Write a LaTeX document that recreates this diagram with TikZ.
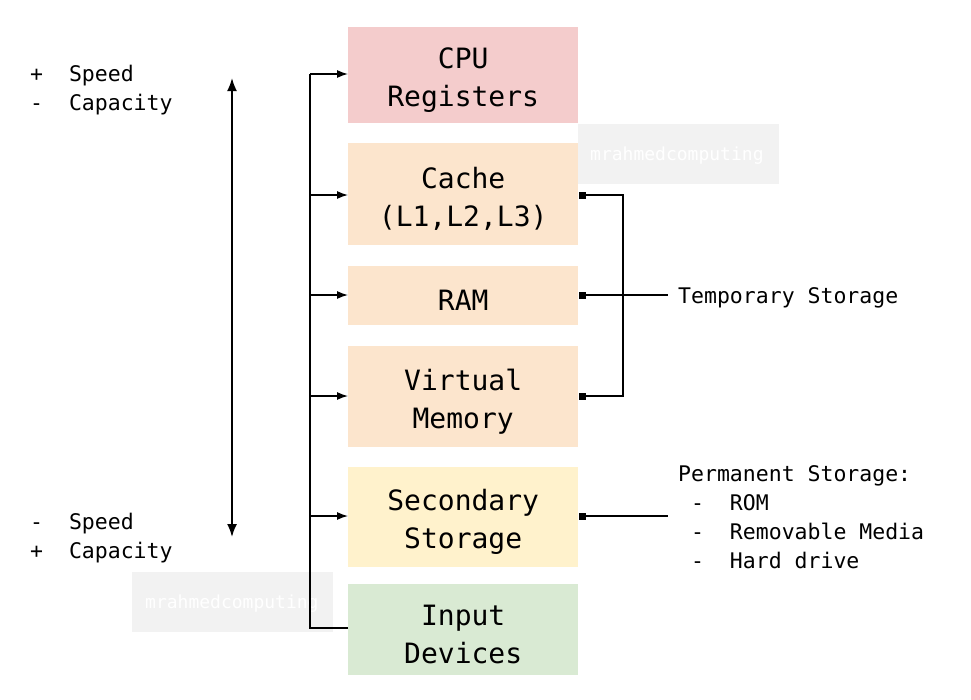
\documentclass[tikz,border=0pt]{standalone}
\usepackage{fontspec}
\setmonofont{DejaVu Sans Mono}
\usetikzlibrary{arrows.meta}
\definecolor{cpu}{HTML}{F4CCCC}
\definecolor{mem}{HTML}{FCE5CD}
\definecolor{sec}{HTML}{FFF2CC}
\definecolor{inp}{HTML}{D9EAD3}
\definecolor{wm}{HTML}{F2F2F2}
\begin{document}
\begin{tikzpicture}[x=1pt,y=-1pt,
  box/.style={draw=none,minimum width=230pt,anchor=north west,inner sep=0pt},
  btxt/.style={inner sep=0pt,align=center,yshift=-5pt,font=\ttfamily\fontsize{28}{38}\selectfont},
  lbl/.style={anchor=west,inner sep=0pt,align=left,font=\ttfamily\fontsize{21.5}{29}\selectfont},
  wmk/.style={fill=wm,minimum width=201pt,minimum height=60pt,anchor=north west,inner sep=0pt},
  wmt/.style={anchor=west,inner sep=0pt,text=white,font=\ttfamily\fontsize{18}{20}\selectfont},
  arr/.style={-{Latex[length=11pt,width=8pt]},line width=1.3pt},
  ln/.style={line width=1.3pt},
  dot/.style={fill=black,minimum size=7pt,inner sep=0pt}]
\useasboundingbox (0,0) rectangle (971,699);
\node[wmk] (w1) at (578,124) {};
\node[wmt] (w1t) at (590,156) {mrahmedcomputing};
\node[wmk] (w2) at (132,572) {};
\node[wmt] (w2t) at (145,604) {mrahmedcomputing};
\node[box,fill=cpu,minimum height=96pt] (cpu) at (348,27) {};
\node[box,fill=mem,minimum height=102pt] (cache) at (348,143) {};
\node[box,fill=mem,minimum height=59pt] (ram) at (348,266) {};
\node[box,fill=mem,minimum height=101pt] (vm) at (348,346) {};
\node[box,fill=sec,minimum height=100pt] (sec) at (348,467) {};
\node[box,fill=inp,minimum height=91pt] (inp) at (348,584) {};
\node[btxt] (cpuT) at (cpu.center) {CPU\\Registers};
\node[btxt] (cacheT) at (cache.center) {Cache\\(L1,L2,L3)};
\node[btxt] (ramT) at (ram.center) {RAM};
\node[btxt] (vmT) at (vm.center) {Virtual\\Memory};
\node[btxt] (secT) at (sec.center) {Secondary\\Storage};
\node[btxt] (inpT) at (inp.center) {Input\\Devices};
\coordinate (b0) at (310,628);
\coordinate (b1) at (310,74);
\coordinate (b2) at (310,195);
\coordinate (b3) at (310,295);
\coordinate (b4) at (310,396);
\coordinate (b5) at (310,516);
\draw[ln] (inp.west|-b0) -- (b0) -- (b1);
\draw[arr] (b1) -- (cpu.west|-b1);
\draw[arr] (b2) -- (cache.west|-b2);
\draw[arr] (b3) -- (ram.west|-b3);
\draw[arr] (b4) -- (vm.west|-b4);
\draw[arr] (b5) -- (sec.west|-b5);
\coordinate (t1) at (232,78);
\coordinate (t2) at (232,537);
\draw[{Latex[length=13pt,width=10pt]}-{Latex[length=13pt,width=10pt]},line width=1.8pt] (t1) -- (t2);
\node[dot] (d1) at (582,195) {};
\node[dot] (d2) at (582,295) {};
\node[dot] (d3) at (582,396) {};
\node[dot] (d4) at (582,516) {};
\coordinate (e2) at (668,295);
\coordinate (e4) at (668,516);
\draw[ln] (d1.center) -- (623,195) -- (623,396) -- (d3.center);
\draw[ln] (d2.center) -- (e2);
\draw[ln] (d4.center) -- (e4);
\node[lbl] (tmp) at (678,298) {Temporary~Storage};
\node[lbl,anchor=north west] (perm) at (678,465) {Permanent~Storage:\\~-~~ROM\\~-~~Removable~Media\\~-~~Hard~drive};
\node[lbl,anchor=north west] (top) at (30,65) {+~~Speed\\-~~Capacity};
\node[lbl,anchor=north west] (bot) at (30,513) {-~~Speed\\+~~Capacity};
\end{tikzpicture}
\end{document}
